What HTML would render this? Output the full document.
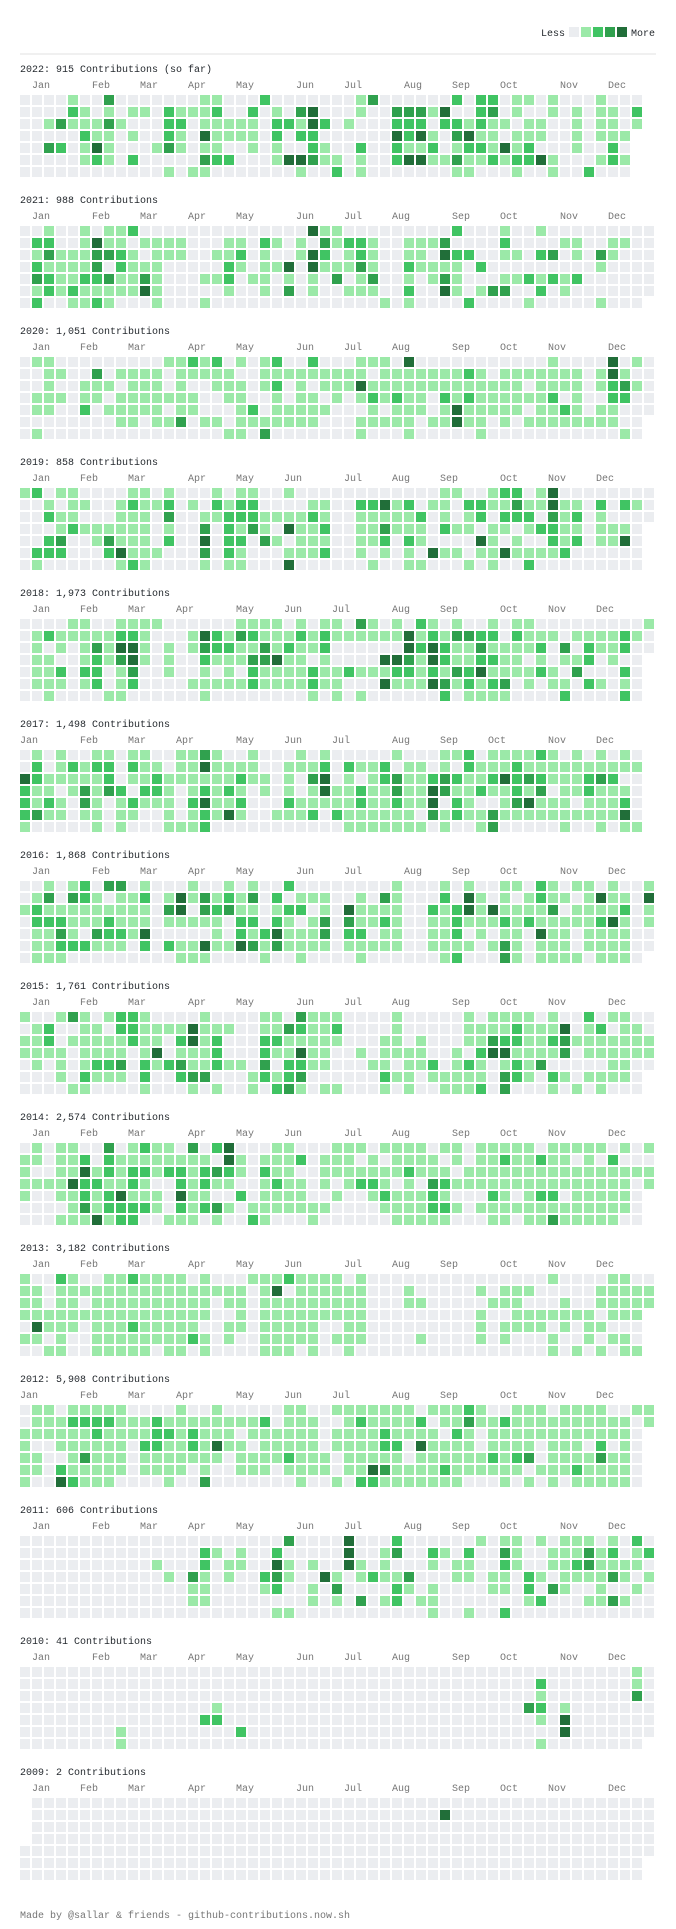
<!DOCTYPE html>
<html><head><meta charset="utf-8"><title>GitHub Contributions</title>
<style>
html,body{margin:0;padding:0;background:#fff;}
body{width:676px;height:1924px;overflow:hidden;}
svg text{font-family:"Liberation Mono",monospace;}
</style></head>
<body>
<svg id="chart" width="676" height="1924" viewBox="0 0 676 1924" xmlns="http://www.w3.org/2000/svg">
  <g>
    <text x="541" y="36" font-size="10" fill="#24292e">Less</text>
    <rect x="569" y="27" width="10" height="10" fill="#ebedf0"/>
    <rect x="581" y="27" width="10" height="10" fill="#9be9a8"/>
    <rect x="593" y="27" width="10" height="10" fill="#40c463"/>
    <rect x="605" y="27" width="10" height="10" fill="#30a14e"/>
    <rect x="617" y="27" width="10" height="10" fill="#216e39"/>
    <text x="631" y="36" font-size="10" fill="#24292e">More</text>
  </g>
  <rect x="20" y="53" width="636" height="2" fill="#f0f0f0"/>
  <g id="years"></g>
  <text x="20" y="1918" font-size="10" fill="#767676">Made by @sallar &amp; friends - github-contributions.now.sh</text>
</svg>
<script>
const years = ["2022","2021","2020","2019","2018","2017","2016","2015","2014","2013","2012","2011","2010","2009"];
const totals = ["915","988","1,051","858","1,973","1,498","1,868","1,761","2,574","3,182","5,908","606","41","2"];
const suffixes = [" (so far)","","","","","","","","","","","","",""];
const monthNames = ["Jan","Feb","Mar","Apr","May","Jun","Jul","Aug","Sep","Oct","Nov","Dec"];
const monthCols = [
 [1,6,10,14,18,23,27,32,36,40,45,49],
 [1,6,10,14,18,23,27,31,36,40,45,49],
 [1,5,9,14,18,23,27,31,36,40,44,49],
 [1,5,9,14,18,22,27,31,35,40,44,48],
 [1,5,9,13,18,22,26,31,35,40,44,48],
 [0,5,9,13,18,22,26,31,35,39,44,48],
 [1,6,10,14,18,23,27,32,36,40,45,49],
 [1,5,9,14,18,23,27,31,36,40,44,49],
 [1,5,9,14,18,22,27,31,36,40,44,49],
 [1,5,9,14,18,22,27,31,35,40,44,48],
 [0,5,9,13,18,22,26,31,35,40,44,48],
 [1,6,10,14,18,23,27,32,36,40,45,49],
 [1,6,10,14,18,23,27,31,36,40,45,49],
 [1,5,9,14,18,23,27,31,36,40,44,49]
];
// levels per day: rows = weekday, chars = week column; ' ' = no cell
const levels = [
 ["0000100300|0000011000|2000000013|0000002022|0110100010|00",
  "0000210101|1021112002|0103400010|0333140023|0100101011|02",
  "0013111310|0022011111|0221420100|0222022121|1011001011|01",
  "0000021101|0021041111|0202200000|0424103411|0111001011|1 ",
  "0032014100|0131011001|0100210020|0211201221|4120001002|0 ",
  "0000012102|0000032200|0144311010|0244113112|1224100012|1 ",
  "0000000000|0010110000|0001002010|0000001100|0100100200|0 "],
 ["0010010112|0000000000|0000411000|0000002000|1001000000|000",
  "0220014110|1111000110|2101031221|0011130000|2000011001|100",
  "0131113321|0111001120|1001420121|0011042200|1102301031|000",
  "0211113021|1100000210|1140411131|0021111020|0000000010|000",
  "0321122311|3100011201|1010103013|0010131000|1121212000|000",
  "0121211111|4100000100|1030100111|0020041013|3002010000|000",
  "0200112100|0100010000|0000000000|1010000200|0010000010|00 "],
 ["0110000000|0011212010|1200200011|1040000000|0000100004|010",
  "0011003011|1101111100|1111111110|1111111210|1111111014|100",
  "0010011101|1101001110|1201011141|1111111111|1101111012|310",
  "0111011011|1111100110|0101101012|1211021211|1111201002|200",
  "0110020111|1101100012|0111110001|0111014111|1101121011|000",
  "0000000011|0113011011|1111100011|1110114110|1011111111|00 ",
  "0100000000|0000000110|3000000010|0010000010|0000000000|10 "],
 ["1201100001|1010001011|0010000000|0000011001|2201400000|000",
  "0010110012|1120102122|0000110022|4120110221|1311411020|210",
  "0021100011|1030011222|1111210011|1112010120|2220312010|000",
  "0001211111|1010030213|1041120011|3111021101|1012211011|10 ",
  "0023001311|1020040220|3101110011|2021000041|0100212011|40 ",
  "0222000241|1100030210|0011120010|1010411011|4111120000|00 ",
  "0100000012|1000010110|0040000001|0011000101|0020000000|00 "],
 ["0000110011|1100000011|1101011031|0102101001|0110000000|001",
  "0121111122|1000142132|1112121111|1141213322|0211101111|210",
  "0101013144|1010132211|3121120000|0042421131|1112030211|200",
  "0110012134|1010021113|3411010000|4431421122|1101011201|00 ",
  "0112022013|0010010102|1111211211|1221213241|1112103000|20 ",
  "0111012012|0000111112|1111211000|4111431212|3010110210|10 ",
  "0010000110|0000010000|0000101010|0000020111|1000020000|20 "],
 ["0101001101|1001131001|0001010000|0100011201|1112101010|10",
  "0201212202|1101141111|0011120211|2011010211|1211111111|11",
  "4211111201|1211111121|1010340101|2311232112|4232111232|00",
  "2110131320|2210121210|1010141121|1311431121|1213011211|10",
  "2121031012|1110241120|0021111121|1211402100|1341110111|20",
  "2311011011|0010121410|0111202111|1110312113|1111111111|40",
  "1000001010|0011120000|0000000111|1111010013|0000010010|11"],
 ["0010120330|1000100101|0020000000|0100010100|1102101101|001",
  "0130321011|2014131213|0201110010|3100020410|1012110141|104",
  "1211111111|1034032311|0122010411|1100212414|1111301111|201",
  "0222111211|1011111022|0210130311|2100112111|2121111124|101",
  "0113103221|4000001021|2411130220|1100112010|1104110111|100",
  "0112221110|2021141143|1311110111|1100111101|3101110111|100",
  "0111000000|0001110000|1001000010|0000012000|3101111011|10 "],
 ["1001310122|1000010000|1103111000|0100000101|1110100201|100",
  "0120011022|1111411100|1132112000|0100000111|1211140120|110",
  "1120111112|1102412000|2211111000|1101000113|2211231111|111",
  "1111011110|1401112000|2114110010|1111001024|4111130111|111",
  "0101012230|2123112110|3022110001|1011201210|1213000001|100",
  "0001021110|2002330001|2123000000|2110111110|3210210111|10 ",
  "0000110000|1000101001|0231011000|1010011120|3000101010|00 "],
 ["0101100301|2110302400|0110001110|1111011011|1110111110|101",
  "1101120211|1111110410|1112011101|0111101011|2112110102|000",
  "1001141212|2122123210|2110011111|1121110111|1111111111|111",
  "1111422112|1002121100|1211010122|1010321111|1111111111|101",
  "1001121241|1104110020|1111001001|2111210002|1012201111|10 ",
  "0000131222|2102123101|1111110000|1111221011|1111111111|10 ",
  "0001114122|0011101002|1000100000|0111110001|1011311111|00 "],
 ["1002100112|1111010001|1121111010|0000000000|0000100001|100",
  "1101111111|1111111110|1401111110|0010000010|1110000011|111",
  "1101101111|1111110110|1111111110|0011000001|1100010011|111",
  "1111111111|1111110010|1111111110|0000000010|0111111101|11 ",
  "0411101112|1111100110|1111100110|0000000010|1111010110|00 ",
  "1101001111|1111210100|1111101110|0001000010|1000100101|10 ",
  "0011001111|1011010000|1110100100|0000000000|0000101010|11 "],
 ["0110111110|0001001000|0011001111|1110111210|0111011110|011",
  "0111222211|1211111111|2011100121|1112011311|2111111111|101",
  "1111112111|1221211101|1111101111|2111102101|1111111111|10 ",
  "1001111110|2211214110|1111101111|2204111101|1110111020|10 ",
  "1100131110|1111111011|1121110111|1101111112|1230111131|10 ",
  "1102111110|1111010011|1011110114|3111121111|1101112111|10 ",
  "1004211100|0010030000|0001001022|1111111000|1010101111|10 "],
 ["0000000000|0000000000|0030000400|0200000010|1101011101|020",
  "0000000000|0000021010|0200000400|1300210200|3100111312|012",
  "0000000000|0100020110|0410100410|1000101100|2100112311|110",
  "0000000000|0010310100|2310041012|1130001101|1021011113|101",
  "0000000000|0000110000|1200103000|0210100001|1020310010|010",
  "0000000000|0000110000|0000101030|1201100000|0012000113|100",
  "0000000000|0000000000|0110000000|0000100100|2000000000|000"],
 ["0000000000|0000000000|0000000000|0000000000|0000000000|010",
  "0000000000|0000000000|0000000000|0000000000|0002000000|010",
  "0000000000|0000000000|0000000000|0000000000|0001000000|030",
  "0000000000|0000001000|0000000000|0000000000|0032010000|000",
  "0000000000|0000022000|0000000000|0000000000|0001040000|000",
  "0000000010|0000000020|0000000000|0000000000|0000040000|000",
  "0000000010|0000000000|0000000000|0000000000|0001000000|00 "],
 [" 000000000|0000000000|0000000000|0000000000|0000000000|000",
  " 000000000|0000000000|0000000000|0000040000|0000000000|000",
  " 000000000|0000000000|0000000000|0000000000|0000000000|000",
  " 000000000|0000000000|0000000000|0000000000|0000000000|000",
  "0000000000|0000000000|0000000000|0000000000|0000000000|000",
  "0000000000|0000000000|0000000000|0000000000|0000000000|00 ",
  "0000000000|0000000000|0000000000|0000000000|0000000000|00 "]
];
const palette = ["#ebedf0","#9be9a8","#40c463","#30a14e","#216e39"];

const NS = "http://www.w3.org/2000/svg";
const root = document.getElementById("years");
const left = 20, pitch = 12, cell = 10, blockH = 131, titleY = 72, monthY = 88, gridY = 95;
function xCol(c){ return left + c * pitch; }
function yRow(yi, r){ return gridY + yi * blockH + r * pitch; }

years.forEach(function(yr, yi){
  const g = document.createElementNS(NS, "g");
  
  
  root.appendChild(g);
  const t = document.createElementNS(NS, "text");
  
  
  t.setAttribute("x", left);
  t.setAttribute("y", titleY + yi * blockH);
  t.setAttribute("font-size", "10");
  t.setAttribute("fill", "#24292e");
  t.textContent = yr + ": " + totals[yi] + " Contributions" + suffixes[yi];
  g.appendChild(t);
  monthNames.forEach(function(m, mi){
    const mt = document.createElementNS(NS, "text");
    
    
    mt.setAttribute("x", xCol(monthCols[yi][mi]));
    mt.setAttribute("y", monthY + yi * blockH);
    mt.setAttribute("font-size", "10");
    mt.setAttribute("fill", "#767676");
    mt.textContent = m;
    g.appendChild(mt);
  });
  levels[yi].forEach(function(rowStr, r){
    const s = rowStr.replace(/\|/g, "");
    for (let c = 0; c < s.length; c++){
      const ch = s[c];
      if (ch === " ") continue;
      const rect = document.createElementNS(NS, "rect");
      
      
      rect.setAttribute("x", xCol(c));
      rect.setAttribute("y", yRow(yi, r));
      rect.setAttribute("width", cell);
      rect.setAttribute("height", cell);
      rect.setAttribute("fill", palette[+ch]);
      g.appendChild(rect);
    }
  });
});
</script>
</body></html>
